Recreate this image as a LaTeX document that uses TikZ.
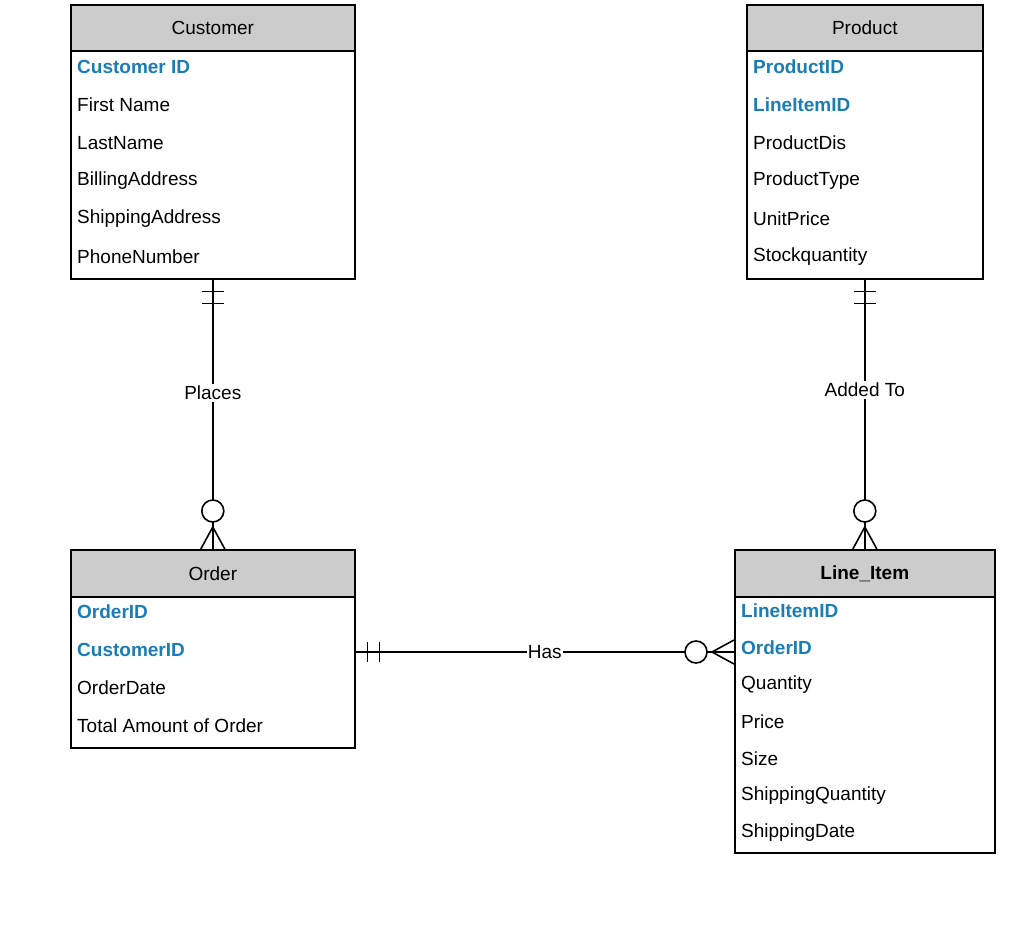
\documentclass[tikz,border=0pt]{standalone}
\usepackage{fontspec}
\setmainfont{Liberation Sans}
\usetikzlibrary{calc}
\definecolor{keyblue}{HTML}{1A7DB5}
\definecolor{headgray}{HTML}{CCCCCC}
\tikzset{
  tbl/.style={draw=black,line width=1.6pt,inner sep=0pt,anchor=north west},
  head/.style={draw=black,line width=1.6pt,fill=headgray,inner sep=0pt,anchor=north west,font=\fontsize{19}{22}\selectfont},
  field/.style={anchor=west,inner sep=0pt,font=\fontsize{19}{22}\selectfont},
  key/.style={field,text=keyblue,font=\fontsize{19}{22}\selectfont\bfseries},
  rel/.style={line width=1.6pt},
  lbl/.style={fill=white,inner sep=2pt,font=\fontsize{19}{22}\selectfont},
}
\begin{document}
\begin{tikzpicture}[x=1pt,y=-1pt]
  \useasboundingbox (0,0) rectangle (1024,944);
  % tables
  \node[tbl,minimum width=284pt,minimum height=274pt] (cust) at (70,4) {};
  \node[head,minimum width=284pt,minimum height=46pt] (cust-h) at (70,4) {Customer};
  \node[tbl,minimum width=236pt,minimum height=274pt] (prod) at (746,4) {};
  \node[head,minimum width=236pt,minimum height=46pt] (prod-h) at (746,4) {Product};
  \node[tbl,minimum width=284pt,minimum height=198pt] (ord) at (70,549) {};
  \node[head,minimum width=284pt,minimum height=47pt] (ord-h) at (70,549) {Order};
  \node[tbl,minimum width=260pt,minimum height=303pt] (item) at (734,549) {};
  \node[head,minimum width=260pt,minimum height=47pt,font=\fontsize{19}{22}\selectfont\bfseries] (item-h) at (734,549) {Line\_Item};
  % fields
  \node[key] (cust-1) at (77,67) {Customer ID};
  \foreach \t [count=\i from 2] in {First Name,LastName,BillingAddress,ShippingAddress,PhoneNumber}
    \node[field] (cust-\i) at (77,29+38*\i) {\t};
  \node[key] (prod-1) at (753,67) {ProductID};
  \node[key] (prod-2) at (753,105) {LineItemID};
  \foreach \t [count=\i from 3] in {ProductDis,ProductType,UnitPrice,Stockquantity}
    \node[field] (prod-\i) at (753,29+38*\i) {\t};
  \node[key] (ord-1) at (77,612) {OrderID};
  \node[key] (ord-2) at (77,650) {CustomerID};
  \node[field] (ord-3) at (77,688) {OrderDate};
  \node[field] (ord-4) at (77,726) {Total Amount of Order};
  \node[key] (item-1) at (741,611) {LineItemID};
  \node[key] (item-2) at (741,648) {OrderID};
  \foreach \t [count=\i from 3] in {Quantity,Price,Size,ShippingQuantity,ShippingDate}
    \node[field] (item-\i) at (741,574+37*\i) {\t};
  % Places
  \draw[rel] (cust.south) -- (ord.north) node[lbl,pos=0.42] {Places};
  \foreach \d in {12,24}
    \draw[rel] ($(cust.south)+(-11,\d)$) -- ++(22,0);
  \draw[rel,fill=white] ($(ord.north)+(0,-38)$) circle (11pt);
  \draw[rel] ($(ord.north)+(-12,0)$) -- ($(ord.north)+(0,-22)$) -- ($(ord.north)+(12,0)$);
  % Added To
  \draw[rel] (prod.south) -- (prod.south |- item.north) coordinate (item-top)
    node[lbl,pos=0.41] {Added To};
  \foreach \d in {12,24}
    \draw[rel] ($(prod.south)+(-11,\d)$) -- ++(22,0);
  \draw[rel,fill=white] ($(item-top)+(0,-38)$) circle (11pt);
  \draw[rel] ($(item-top)+(-12,0)$) -- ($(item-top)+(0,-22)$) -- ($(item-top)+(12,0)$);
  % Has
  \coordinate (has-a) at (ord.east |- 0,652);
  \coordinate (has-b) at (item.west |- 0,652);
  \draw[rel] (has-a) -- (has-b) node[lbl,pos=0.5,inner sep=1pt] {Has};
  \foreach \d in {12,24}
    \draw[rel] ($(has-a)+(\d,-10)$) -- ++(0,20);
  \draw[rel,fill=white] ($(has-b)+(-38,0)$) circle (11pt);
  \draw[rel] ($(has-b)+(0,-12)$) -- ($(has-b)+(-22,0)$) -- ($(has-b)+(0,12)$);
\end{tikzpicture}
\end{document}
